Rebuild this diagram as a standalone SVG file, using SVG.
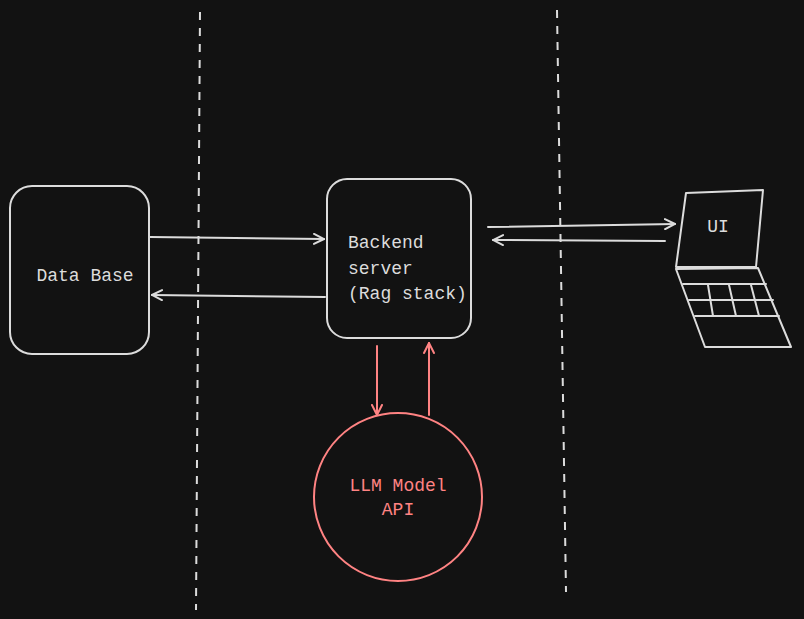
<svg xmlns="http://www.w3.org/2000/svg" width="804" height="619" viewBox="0 0 804 619">
<style>
.s{fill:none;stroke:#dcdcdc;stroke-width:2;stroke-linecap:round;stroke-linejoin:round}
.r{fill:none;stroke:#ff8383;stroke-width:2;stroke-linecap:round;stroke-linejoin:round}
.d{fill:none;stroke:#dcdcdc;stroke-width:2;stroke-dasharray:8 8}
.t{font-family:"Liberation Mono",monospace;font-size:18px;fill:#dcdcdc}
.tr{font-family:"Liberation Mono",monospace;font-size:18px;fill:#ff8383}
</style>
<defs>
<marker id="a" markerWidth="12" markerHeight="12" refX="11" refY="6" orient="auto" markerUnits="userSpaceOnUse"><path d="M1,1 L11,6 L1,11" fill="none" stroke="#dcdcdc" stroke-width="2" stroke-linecap="round"/></marker>
<marker id="ar" markerWidth="12" markerHeight="12" refX="11" refY="6" orient="auto" markerUnits="userSpaceOnUse"><path d="M1,1 L11,6 L1,11" fill="none" stroke="#ff8383" stroke-width="2" stroke-linecap="round"/></marker>
</defs>
<rect width="804" height="619" fill="#121212"/>
<line class="d" x1="200" y1="12" x2="196" y2="610"/>
<line class="d" x1="557" y1="10" x2="566" y2="592"/>
<g id="database"><rect class="s" x="10" y="186" width="139" height="168" rx="22"/><text class="t" x="85" y="281" text-anchor="middle">Data Base</text></g>
<g id="backend"><rect class="s" x="327" y="179" width="144" height="159" rx="20"/><text class="t" x="348" y="248">Backend</text><text class="t" x="348" y="274">server</text><text class="t" x="348" y="299">(Rag stack)</text></g>
<g id="llm"><circle class="r" cx="398" cy="497" r="84"/><text class="tr" x="398" y="491" text-anchor="middle">LLM Model</text><text class="tr" x="398" y="515" text-anchor="middle">API</text></g>
<g id="ui">
<path class="s" d="M686,193 L763,190 L756,267 L676,267 Z"/>
<path class="s" d="M676,269 L758,268 L791,347 L705,347 Z"/>
<path class="s" d="M683,284 L766,284 M689,300 L773,300 M695,316 L779,316 M708,285 L713,316 M729,285 L736,316 M751,285 L759,316"/>
<text class="t" x="718" y="232" text-anchor="middle">UI</text>
</g>
<g id="connectors">
<line class="s" x1="150" y1="237" x2="324" y2="239" marker-end="url(#a)"/>
<line class="s" x1="325" y1="297" x2="152" y2="295" marker-end="url(#a)"/>
<line class="s" x1="488" y1="227" x2="675" y2="224" marker-end="url(#a)"/>
<line class="s" x1="665" y1="241" x2="493" y2="240" marker-end="url(#a)"/>
<line class="r" x1="377" y1="346" x2="377" y2="415" marker-end="url(#ar)"/>
<line class="r" x1="429" y1="415" x2="429" y2="343" marker-end="url(#ar)"/>
</g>
</svg>
